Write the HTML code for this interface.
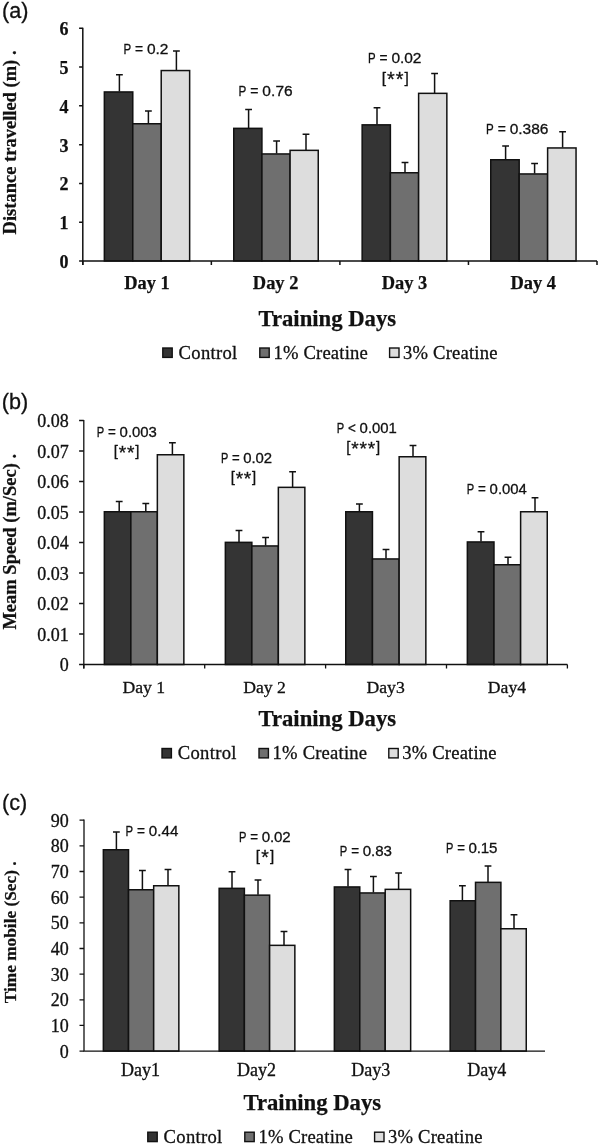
<!DOCTYPE html>
<html lang="en"><head><meta charset="utf-8"><title>Figure: creatine and training days</title>
<style>
html,body{margin:0;padding:0;background:#fff}
svg{display:block}
text{fill:#111}
</style></head>
<body>
<svg width="600" height="1146" viewBox="0 0 600 1146" shape-rendering="geometricPrecision">
<rect width="600" height="1146" fill="#fff"/>
<rect x="104.35" y="91.95" width="28.43" height="169.05" fill="#343434" stroke="#111" stroke-width="1.5"/>
<rect x="132.78" y="123.75" width="28.43" height="137.25" fill="#6f6f6f" stroke="#111" stroke-width="1.5"/>
<rect x="161.22" y="70.55" width="28.43" height="190.45" fill="#dddddd" stroke="#111" stroke-width="1.5"/>
<path d="M119.40 91.60V74.80M116.00 74.80H122.80" stroke="#111" stroke-width="1.5" fill="none"/>
<path d="M148.40 123.40V111.00M145.00 111.00H151.80" stroke="#111" stroke-width="1.5" fill="none"/>
<path d="M176.40 70.20V51.00M173.00 51.00H179.80" stroke="#111" stroke-width="1.5" fill="none"/>
<rect x="233.75" y="128.35" width="28.17" height="132.65" fill="#343434" stroke="#111" stroke-width="1.5"/>
<rect x="261.92" y="153.95" width="28.17" height="107.05" fill="#6f6f6f" stroke="#111" stroke-width="1.5"/>
<rect x="290.08" y="150.35" width="28.17" height="110.65" fill="#dddddd" stroke="#111" stroke-width="1.5"/>
<path d="M248.60 128.00V109.40M245.20 109.40H252.00" stroke="#111" stroke-width="1.5" fill="none"/>
<path d="M276.60 153.60V141.00M273.20 141.00H280.00" stroke="#111" stroke-width="1.5" fill="none"/>
<path d="M306.00 150.00V134.20M302.60 134.20H309.40" stroke="#111" stroke-width="1.5" fill="none"/>
<rect x="362.15" y="124.85" width="28.23" height="136.15" fill="#343434" stroke="#111" stroke-width="1.5"/>
<rect x="390.38" y="172.75" width="28.23" height="88.25" fill="#6f6f6f" stroke="#111" stroke-width="1.5"/>
<rect x="418.62" y="93.35" width="28.23" height="167.65" fill="#dddddd" stroke="#111" stroke-width="1.5"/>
<path d="M377.00 124.50V107.80M373.60 107.80H380.40" stroke="#111" stroke-width="1.5" fill="none"/>
<path d="M405.00 172.40V162.40M401.60 162.40H408.40" stroke="#111" stroke-width="1.5" fill="none"/>
<path d="M434.60 93.00V73.40M431.20 73.40H438.00" stroke="#111" stroke-width="1.5" fill="none"/>
<rect x="490.75" y="159.75" width="28.43" height="101.25" fill="#343434" stroke="#111" stroke-width="1.5"/>
<rect x="519.18" y="173.95" width="28.43" height="87.05" fill="#6f6f6f" stroke="#111" stroke-width="1.5"/>
<rect x="547.62" y="147.95" width="28.43" height="113.05" fill="#dddddd" stroke="#111" stroke-width="1.5"/>
<path d="M505.60 159.40V146.00M502.20 146.00H509.00" stroke="#111" stroke-width="1.5" fill="none"/>
<path d="M534.60 173.60V163.40M531.20 163.40H538.00" stroke="#111" stroke-width="1.5" fill="none"/>
<path d="M562.60 147.60V131.80M559.20 131.80H566.00" stroke="#111" stroke-width="1.5" fill="none"/>
<path d="M82.80 27.70V265.00M82.20 261.00H597.00" stroke="#111" stroke-width="1.5" fill="none"/>
<path d="M79.10 261.00H82.80M79.10 222.22H82.80M79.10 183.43H82.80M79.10 144.65H82.80M79.10 105.87H82.80M79.10 67.08H82.80M79.10 28.30H82.80M82.80 261.00V265.00M211.35 261.00V265.00M339.90 261.00V265.00M468.45 261.00V265.00M597.00 261.00V265.00" stroke="#111" stroke-width="1.5" fill="none"/>
<text x="68.60" y="267.90" font-family='"Liberation Serif", serif' font-size="18" font-weight="bold" text-anchor="end" stroke="#111" stroke-width="0.25">0</text>
<text x="68.60" y="229.12" font-family='"Liberation Serif", serif' font-size="18" font-weight="bold" text-anchor="end" stroke="#111" stroke-width="0.25">1</text>
<text x="68.60" y="190.33" font-family='"Liberation Serif", serif' font-size="18" font-weight="bold" text-anchor="end" stroke="#111" stroke-width="0.25">2</text>
<text x="68.60" y="151.55" font-family='"Liberation Serif", serif' font-size="18" font-weight="bold" text-anchor="end" stroke="#111" stroke-width="0.25">3</text>
<text x="68.60" y="112.77" font-family='"Liberation Serif", serif' font-size="18" font-weight="bold" text-anchor="end" stroke="#111" stroke-width="0.25">4</text>
<text x="68.60" y="73.98" font-family='"Liberation Serif", serif' font-size="18" font-weight="bold" text-anchor="end" stroke="#111" stroke-width="0.25">5</text>
<text x="68.60" y="35.20" font-family='"Liberation Serif", serif' font-size="18" font-weight="bold" text-anchor="end" stroke="#111" stroke-width="0.25">6</text>
<text transform="translate(15.80 234.40) rotate(-90)" font-family='"Liberation Serif", serif' font-size="18.5" font-weight="bold" stroke="#111" stroke-width="0.25">Distance travelled (m) .</text>
<text x="147.00" y="289.00" font-family='"Liberation Serif", serif' font-size="18.4" font-weight="bold" text-anchor="middle" stroke="#111" stroke-width="0.25">Day 1</text>
<text x="275.60" y="289.00" font-family='"Liberation Serif", serif' font-size="18.4" font-weight="bold" text-anchor="middle" stroke="#111" stroke-width="0.25">Day 2</text>
<text x="404.40" y="289.00" font-family='"Liberation Serif", serif' font-size="18.4" font-weight="bold" text-anchor="middle" stroke="#111" stroke-width="0.25">Day 3</text>
<text x="533.20" y="289.00" font-family='"Liberation Serif", serif' font-size="18.4" font-weight="bold" text-anchor="middle" stroke="#111" stroke-width="0.25">Day 4</text>
<text x="258.50" y="326.10" font-family='"Liberation Serif", serif' font-size="22.7" font-weight="bold" text-anchor="start" stroke="#111" stroke-width="0.25">Training Days</text>
<rect x="162.80" y="348.00" width="9.4" height="9.4" fill="#343434" stroke="#111" stroke-width="1.4"/>
<text x="178.60" y="358.70" font-family='"Liberation Serif", serif' font-size="18.6" font-weight="normal" text-anchor="start" letter-spacing="0.3" stroke="#111" stroke-width="0.3">Control</text>
<rect x="259.80" y="348.00" width="9.4" height="9.4" fill="#6f6f6f" stroke="#111" stroke-width="1.4"/>
<text x="273.40" y="358.70" font-family='"Liberation Serif", serif' font-size="18.6" font-weight="normal" text-anchor="start" letter-spacing="0.2" stroke="#111" stroke-width="0.3">1% Creatine</text>
<rect x="389.60" y="348.00" width="9.4" height="9.4" fill="#dddddd" stroke="#111" stroke-width="1.4"/>
<text x="403.00" y="358.70" font-family='"Liberation Serif", serif' font-size="18.6" font-weight="normal" text-anchor="start" letter-spacing="0.2" stroke="#111" stroke-width="0.3">3% Creatine</text>
<text x="2.00" y="17.90" font-family='"Liberation Sans", sans-serif' font-size="21.6" font-weight="normal" text-anchor="start" stroke="#111" stroke-width="0.3">(a)</text>
<text y="54.40" font-family='"Liberation Sans", sans-serif' font-size="15.5" stroke="#111" stroke-width="0.3" xml:space="preserve"><tspan x="123.42" textLength="7.69" lengthAdjust="spacingAndGlyphs">P</tspan><tspan x="130.89"> </tspan><tspan x="135.05" textLength="8.08" lengthAdjust="spacingAndGlyphs">=</tspan><tspan x="143.13"> </tspan><tspan x="146.92" y="54.40">0</tspan><tspan x="155.50" y="54.40">.</tspan><tspan x="159.76" y="54.40">2</tspan></text>
<text y="96.00" font-family='"Liberation Sans", sans-serif' font-size="15.5" stroke="#111" stroke-width="0.3" xml:space="preserve"><tspan x="238.43" textLength="7.81" lengthAdjust="spacingAndGlyphs">P</tspan><tspan x="246.01"> </tspan><tspan x="250.24" textLength="8.21" lengthAdjust="spacingAndGlyphs">=</tspan><tspan x="258.45"> </tspan><tspan x="262.37" y="96.00">0</tspan><tspan x="271.04" y="96.00">.</tspan><tspan x="275.41" y="96.00">7</tspan><tspan x="284.11" y="96.00">6</tspan></text>
<text y="62.60" font-family='"Liberation Sans", sans-serif' font-size="15.5" stroke="#111" stroke-width="0.3" xml:space="preserve"><tspan x="368.02" textLength="7.66" lengthAdjust="spacingAndGlyphs">P</tspan><tspan x="375.46"> </tspan><tspan x="379.61" textLength="8.06" lengthAdjust="spacingAndGlyphs">=</tspan><tspan x="387.66"> </tspan><tspan x="391.43" y="62.60">0</tspan><tspan x="399.99" y="62.60">.</tspan><tspan x="404.23" y="62.60">0</tspan><tspan x="412.77" y="62.60">2</tspan></text>
<text y="83.40" font-family='"Liberation Sans", sans-serif' font-size="15.5" stroke="#111" stroke-width="0.3" xml:space="preserve"><tspan x="381.66" y="83.40">[</tspan><tspan x="387.03" y="86.04" font-size="19.84">*</tspan><tspan x="395.78" y="86.04" font-size="19.84">*</tspan><tspan x="404.56" y="83.40">]</tspan></text>
<text y="133.60" font-family='"Liberation Sans", sans-serif' font-size="15.5" stroke="#111" stroke-width="0.3" xml:space="preserve"><tspan x="486.02" textLength="7.72" lengthAdjust="spacingAndGlyphs">P</tspan><tspan x="493.52"> </tspan><tspan x="497.70" textLength="8.12" lengthAdjust="spacingAndGlyphs">=</tspan><tspan x="505.82"> </tspan><tspan x="509.65" y="133.60">0</tspan><tspan x="518.25" y="133.60">.</tspan><tspan x="522.54" y="133.60">3</tspan><tspan x="531.14" y="133.60">8</tspan><tspan x="539.75" y="133.60">6</tspan></text>
<rect x="104.35" y="511.75" width="26.50" height="152.75" fill="#343434" stroke="#111" stroke-width="1.5"/>
<rect x="130.85" y="511.75" width="26.50" height="152.75" fill="#6f6f6f" stroke="#111" stroke-width="1.5"/>
<rect x="157.35" y="454.75" width="26.50" height="209.75" fill="#dddddd" stroke="#111" stroke-width="1.5"/>
<path d="M119.20 511.40V501.60M115.80 501.60H122.60" stroke="#111" stroke-width="1.5" fill="none"/>
<path d="M145.80 511.40V503.60M142.40 503.60H149.20" stroke="#111" stroke-width="1.5" fill="none"/>
<path d="M172.40 454.40V442.80M169.00 442.80H175.80" stroke="#111" stroke-width="1.5" fill="none"/>
<rect x="225.35" y="542.35" width="26.50" height="122.15" fill="#343434" stroke="#111" stroke-width="1.5"/>
<rect x="251.85" y="545.95" width="26.50" height="118.55" fill="#6f6f6f" stroke="#111" stroke-width="1.5"/>
<rect x="278.35" y="487.35" width="26.50" height="177.15" fill="#dddddd" stroke="#111" stroke-width="1.5"/>
<path d="M239.00 542.00V530.40M235.60 530.40H242.40" stroke="#111" stroke-width="1.5" fill="none"/>
<path d="M265.60 545.60V537.40M262.20 537.40H269.00" stroke="#111" stroke-width="1.5" fill="none"/>
<path d="M292.60 487.00V471.80M289.20 471.80H296.00" stroke="#111" stroke-width="1.5" fill="none"/>
<rect x="345.75" y="511.75" width="26.70" height="152.75" fill="#343434" stroke="#111" stroke-width="1.5"/>
<rect x="372.45" y="558.95" width="26.70" height="105.55" fill="#6f6f6f" stroke="#111" stroke-width="1.5"/>
<rect x="399.15" y="456.75" width="26.70" height="207.75" fill="#dddddd" stroke="#111" stroke-width="1.5"/>
<path d="M359.40 511.40V504.00M356.00 504.00H362.80" stroke="#111" stroke-width="1.5" fill="none"/>
<path d="M386.00 558.60V549.40M382.60 549.40H389.40" stroke="#111" stroke-width="1.5" fill="none"/>
<path d="M413.00 456.40V445.40M409.60 445.40H416.40" stroke="#111" stroke-width="1.5" fill="none"/>
<rect x="467.35" y="541.95" width="26.63" height="122.55" fill="#343434" stroke="#111" stroke-width="1.5"/>
<rect x="493.98" y="564.75" width="26.63" height="99.75" fill="#6f6f6f" stroke="#111" stroke-width="1.5"/>
<rect x="520.62" y="511.75" width="26.63" height="152.75" fill="#dddddd" stroke="#111" stroke-width="1.5"/>
<path d="M481.00 541.60V531.80M477.60 531.80H484.40" stroke="#111" stroke-width="1.5" fill="none"/>
<path d="M508.00 564.40V557.20M504.60 557.20H511.40" stroke="#111" stroke-width="1.5" fill="none"/>
<path d="M535.00 511.40V497.80M531.60 497.80H538.40" stroke="#111" stroke-width="1.5" fill="none"/>
<path d="M83.80 419.90V668.50M83.20 664.50H567.40" stroke="#111" stroke-width="1.3" fill="none"/>
<path d="M79.10 664.50H83.80M79.10 634.00H83.80M79.10 603.50H83.80M79.10 573.00H83.80M79.10 542.50H83.80M79.10 512.00H83.80M79.10 481.50H83.80M79.10 451.00H83.80M79.10 420.50H83.80M83.80 664.50V668.50M204.70 664.50V668.50M325.60 664.50V668.50M446.50 664.50V668.50M567.40 664.50V668.50" stroke="#111" stroke-width="1.3" fill="none"/>
<text x="68.80" y="671.10" font-family='"Liberation Serif", serif' font-size="18" font-weight="normal" text-anchor="end" stroke="#111" stroke-width="0.3">0</text>
<text x="68.80" y="640.60" font-family='"Liberation Serif", serif' font-size="18" font-weight="normal" text-anchor="end" stroke="#111" stroke-width="0.3">0.01</text>
<text x="68.80" y="610.10" font-family='"Liberation Serif", serif' font-size="18" font-weight="normal" text-anchor="end" stroke="#111" stroke-width="0.3">0.02</text>
<text x="68.80" y="579.60" font-family='"Liberation Serif", serif' font-size="18" font-weight="normal" text-anchor="end" stroke="#111" stroke-width="0.3">0.03</text>
<text x="68.80" y="549.10" font-family='"Liberation Serif", serif' font-size="18" font-weight="normal" text-anchor="end" stroke="#111" stroke-width="0.3">0.04</text>
<text x="68.80" y="518.60" font-family='"Liberation Serif", serif' font-size="18" font-weight="normal" text-anchor="end" stroke="#111" stroke-width="0.3">0.05</text>
<text x="68.80" y="488.10" font-family='"Liberation Serif", serif' font-size="18" font-weight="normal" text-anchor="end" stroke="#111" stroke-width="0.3">0.06</text>
<text x="68.80" y="457.60" font-family='"Liberation Serif", serif' font-size="18" font-weight="normal" text-anchor="end" stroke="#111" stroke-width="0.3">0.07</text>
<text x="68.80" y="427.10" font-family='"Liberation Serif", serif' font-size="18" font-weight="normal" text-anchor="end" stroke="#111" stroke-width="0.3">0.08</text>
<text transform="translate(15.70 629.60) rotate(-90)" font-family='"Liberation Serif", serif' font-size="18.5" font-weight="bold" stroke="#111" stroke-width="0.25">Meam Speed (m/Sec) .</text>
<text x="143.80" y="692.70" font-family='"Liberation Serif", serif' font-size="17.7" font-weight="normal" text-anchor="middle" stroke="#111" stroke-width="0.3">Day 1</text>
<text x="264.60" y="692.70" font-family='"Liberation Serif", serif' font-size="17.7" font-weight="normal" text-anchor="middle" stroke="#111" stroke-width="0.3">Day 2</text>
<text x="385.60" y="692.70" font-family='"Liberation Serif", serif' font-size="17.7" font-weight="normal" text-anchor="middle" stroke="#111" stroke-width="0.3">Day3</text>
<text x="507.00" y="692.70" font-family='"Liberation Serif", serif' font-size="17.7" font-weight="normal" text-anchor="middle" stroke="#111" stroke-width="0.3">Day4</text>
<text x="258.50" y="725.70" font-family='"Liberation Serif", serif' font-size="22.7" font-weight="bold" text-anchor="start" stroke="#111" stroke-width="0.25">Training Days</text>
<rect x="162.00" y="748.50" width="9.4" height="9.4" fill="#343434" stroke="#111" stroke-width="1.4"/>
<text x="177.80" y="759.20" font-family='"Liberation Serif", serif' font-size="18.6" font-weight="normal" text-anchor="start" letter-spacing="0.3" stroke="#111" stroke-width="0.3">Control</text>
<rect x="259.00" y="748.50" width="9.4" height="9.4" fill="#6f6f6f" stroke="#111" stroke-width="1.4"/>
<text x="272.60" y="759.20" font-family='"Liberation Serif", serif' font-size="18.6" font-weight="normal" text-anchor="start" letter-spacing="0.2" stroke="#111" stroke-width="0.3">1% Creatine</text>
<rect x="388.80" y="748.50" width="9.4" height="9.4" fill="#dddddd" stroke="#111" stroke-width="1.4"/>
<text x="402.20" y="759.20" font-family='"Liberation Serif", serif' font-size="18.6" font-weight="normal" text-anchor="start" letter-spacing="0.2" stroke="#111" stroke-width="0.3">3% Creatine</text>
<text x="1.80" y="408.80" font-family='"Liberation Sans", sans-serif' font-size="21.6" font-weight="normal" text-anchor="start" stroke="#111" stroke-width="0.3">(b)</text>
<text y="437.00" font-family='"Liberation Sans", sans-serif' font-size="14.9" stroke="#111" stroke-width="0.3" xml:space="preserve"><tspan x="96.81" textLength="7.44" lengthAdjust="spacingAndGlyphs">P</tspan><tspan x="104.04"> </tspan><tspan x="108.07" textLength="7.83" lengthAdjust="spacingAndGlyphs">=</tspan><tspan x="115.89"> </tspan><tspan x="119.60" y="437.00">0</tspan><tspan x="127.88" y="437.00">.</tspan><tspan x="132.03" y="437.00">0</tspan><tspan x="140.32" y="437.00">0</tspan><tspan x="148.62" y="437.00">3</tspan></text>
<text y="456.00" font-family='"Liberation Sans", sans-serif' font-size="14.9" stroke="#111" stroke-width="0.3" xml:space="preserve"><tspan x="113.65" y="456.00">[</tspan><tspan x="118.70" y="458.53" font-size="19.07">*</tspan><tspan x="126.98" y="458.53" font-size="19.07">*</tspan><tspan x="135.31" y="456.00">]</tspan></text>
<text y="462.60" font-family='"Liberation Sans", sans-serif' font-size="14.9" stroke="#111" stroke-width="0.3" xml:space="preserve"><tspan x="221.00" textLength="7.31" lengthAdjust="spacingAndGlyphs">P</tspan><tspan x="228.10"> </tspan><tspan x="232.06" textLength="7.69" lengthAdjust="spacingAndGlyphs">=</tspan><tspan x="239.75"> </tspan><tspan x="243.31" y="462.60">0</tspan><tspan x="251.49" y="462.60">.</tspan><tspan x="255.52" y="462.60">0</tspan><tspan x="263.67" y="462.60">2</tspan></text>
<text y="482.00" font-family='"Liberation Sans", sans-serif' font-size="14.9" stroke="#111" stroke-width="0.3" xml:space="preserve"><tspan x="230.63" y="482.00">[</tspan><tspan x="235.63" y="484.53" font-size="19.07">*</tspan><tspan x="243.85" y="484.53" font-size="19.07">*</tspan><tspan x="252.12" y="482.00">]</tspan></text>
<text y="432.60" font-family='"Liberation Sans", sans-serif' font-size="14.9" stroke="#111" stroke-width="0.3" xml:space="preserve"><tspan x="336.81" textLength="7.44" lengthAdjust="spacingAndGlyphs">P</tspan><tspan x="344.04"> </tspan><tspan x="348.07" textLength="7.83" lengthAdjust="spacingAndGlyphs">&lt;</tspan><tspan x="355.89"> </tspan><tspan x="359.60" y="432.60">0</tspan><tspan x="367.88" y="432.60">.</tspan><tspan x="372.03" y="432.60">0</tspan><tspan x="380.32" y="432.60">0</tspan><tspan x="388.62" y="432.60">1</tspan></text>
<text y="452.00" font-family='"Liberation Sans", sans-serif' font-size="14.9" stroke="#111" stroke-width="0.3" xml:space="preserve"><tspan x="346.24" y="452.00">[</tspan><tspan x="351.28" y="454.53" font-size="19.07">*</tspan><tspan x="359.54" y="454.53" font-size="19.07">*</tspan><tspan x="367.80" y="454.53" font-size="19.07">*</tspan><tspan x="376.11" y="452.00">]</tspan></text>
<text y="493.60" font-family='"Liberation Sans", sans-serif' font-size="14.9" stroke="#111" stroke-width="0.3" xml:space="preserve"><tspan x="466.81" textLength="7.44" lengthAdjust="spacingAndGlyphs">P</tspan><tspan x="474.04"> </tspan><tspan x="478.07" textLength="7.83" lengthAdjust="spacingAndGlyphs">=</tspan><tspan x="485.89"> </tspan><tspan x="489.60" y="493.60">0</tspan><tspan x="497.88" y="493.60">.</tspan><tspan x="502.03" y="493.60">0</tspan><tspan x="510.32" y="493.60">0</tspan><tspan x="518.62" y="493.60">4</tspan></text>
<rect x="103.35" y="849.75" width="25.17" height="201.35" fill="#343434" stroke="#111" stroke-width="1.5"/>
<rect x="128.52" y="889.75" width="25.17" height="161.35" fill="#6f6f6f" stroke="#111" stroke-width="1.5"/>
<rect x="153.68" y="885.75" width="25.17" height="165.35" fill="#dddddd" stroke="#111" stroke-width="1.5"/>
<path d="M116.40 849.40V832.00M113.00 832.00H119.80" stroke="#111" stroke-width="1.5" fill="none"/>
<path d="M142.40 889.40V870.40M139.00 870.40H145.80" stroke="#111" stroke-width="1.5" fill="none"/>
<path d="M168.00 885.40V869.40M164.60 869.40H171.40" stroke="#111" stroke-width="1.5" fill="none"/>
<rect x="219.15" y="888.35" width="25.23" height="162.75" fill="#343434" stroke="#111" stroke-width="1.5"/>
<rect x="244.38" y="895.15" width="25.23" height="155.95" fill="#6f6f6f" stroke="#111" stroke-width="1.5"/>
<rect x="269.62" y="945.35" width="25.23" height="105.75" fill="#dddddd" stroke="#111" stroke-width="1.5"/>
<path d="M232.00 888.00V871.80M228.60 871.80H235.40" stroke="#111" stroke-width="1.5" fill="none"/>
<path d="M258.00 894.80V880.00M254.60 880.00H261.40" stroke="#111" stroke-width="1.5" fill="none"/>
<path d="M284.00 945.00V931.40M280.60 931.40H287.40" stroke="#111" stroke-width="1.5" fill="none"/>
<rect x="334.35" y="886.95" width="25.43" height="164.15" fill="#343434" stroke="#111" stroke-width="1.5"/>
<rect x="359.78" y="892.95" width="25.43" height="158.15" fill="#6f6f6f" stroke="#111" stroke-width="1.5"/>
<rect x="385.22" y="889.35" width="25.43" height="161.75" fill="#dddddd" stroke="#111" stroke-width="1.5"/>
<path d="M348.00 886.60V869.40M344.60 869.40H351.40" stroke="#111" stroke-width="1.5" fill="none"/>
<path d="M373.40 892.60V876.40M370.00 876.40H376.80" stroke="#111" stroke-width="1.5" fill="none"/>
<path d="M398.60 889.00V873.00M395.20 873.00H402.00" stroke="#111" stroke-width="1.5" fill="none"/>
<rect x="450.15" y="900.75" width="25.37" height="150.35" fill="#343434" stroke="#111" stroke-width="1.5"/>
<rect x="475.52" y="882.35" width="25.37" height="168.75" fill="#6f6f6f" stroke="#111" stroke-width="1.5"/>
<rect x="500.88" y="928.75" width="25.37" height="122.35" fill="#dddddd" stroke="#111" stroke-width="1.5"/>
<path d="M462.40 900.40V885.80M459.00 885.80H465.80" stroke="#111" stroke-width="1.5" fill="none"/>
<path d="M488.00 882.00V866.00M484.60 866.00H491.40" stroke="#111" stroke-width="1.5" fill="none"/>
<path d="M514.00 928.40V914.80M510.60 914.80H517.40" stroke="#111" stroke-width="1.5" fill="none"/>
<path d="M84.00 819.60V1051.10M83.40 1051.10H545.00" stroke="#111" stroke-width="1.3" fill="none"/>
<path d="M79.50 1051.10H84.00M79.50 1025.44H84.00M79.50 999.79H84.00M79.50 974.13H84.00M79.50 948.48H84.00M79.50 922.82H84.00M79.50 897.17H84.00M79.50 871.51H84.00M79.50 845.86H84.00M79.50 820.20H84.00" stroke="#111" stroke-width="1.3" fill="none"/>
<text x="68.80" y="1057.70" font-family='"Liberation Serif", serif' font-size="18" font-weight="normal" text-anchor="end" stroke="#111" stroke-width="0.3">0</text>
<text x="68.80" y="1032.04" font-family='"Liberation Serif", serif' font-size="18" font-weight="normal" text-anchor="end" stroke="#111" stroke-width="0.3">10</text>
<text x="68.80" y="1006.39" font-family='"Liberation Serif", serif' font-size="18" font-weight="normal" text-anchor="end" stroke="#111" stroke-width="0.3">20</text>
<text x="68.80" y="980.73" font-family='"Liberation Serif", serif' font-size="18" font-weight="normal" text-anchor="end" stroke="#111" stroke-width="0.3">30</text>
<text x="68.80" y="955.08" font-family='"Liberation Serif", serif' font-size="18" font-weight="normal" text-anchor="end" stroke="#111" stroke-width="0.3">40</text>
<text x="68.80" y="929.42" font-family='"Liberation Serif", serif' font-size="18" font-weight="normal" text-anchor="end" stroke="#111" stroke-width="0.3">50</text>
<text x="68.80" y="903.77" font-family='"Liberation Serif", serif' font-size="18" font-weight="normal" text-anchor="end" stroke="#111" stroke-width="0.3">60</text>
<text x="68.80" y="878.11" font-family='"Liberation Serif", serif' font-size="18" font-weight="normal" text-anchor="end" stroke="#111" stroke-width="0.3">70</text>
<text x="68.80" y="852.46" font-family='"Liberation Serif", serif' font-size="18" font-weight="normal" text-anchor="end" stroke="#111" stroke-width="0.3">80</text>
<text x="68.80" y="826.80" font-family='"Liberation Serif", serif' font-size="18" font-weight="normal" text-anchor="end" stroke="#111" stroke-width="0.3">90</text>
<text transform="translate(15.70 1003.20) rotate(-90)" font-family='"Liberation Serif", serif' font-size="17.3" font-weight="bold" stroke="#111" stroke-width="0.25">Time mobile (Sec) .</text>
<text x="140.50" y="1076.00" font-family='"Liberation Serif", serif' font-size="18" font-weight="normal" text-anchor="middle" stroke="#111" stroke-width="0.3">Day1</text>
<text x="256.40" y="1076.00" font-family='"Liberation Serif", serif' font-size="18" font-weight="normal" text-anchor="middle" stroke="#111" stroke-width="0.3">Day2</text>
<text x="370.80" y="1076.00" font-family='"Liberation Serif", serif' font-size="18" font-weight="normal" text-anchor="middle" stroke="#111" stroke-width="0.3">Day3</text>
<text x="486.80" y="1076.00" font-family='"Liberation Serif", serif' font-size="18" font-weight="normal" text-anchor="middle" stroke="#111" stroke-width="0.3">Day4</text>
<text x="243.50" y="1110.00" font-family='"Liberation Serif", serif' font-size="22.7" font-weight="bold" text-anchor="start" stroke="#111" stroke-width="0.25">Training Days</text>
<rect x="147.80" y="1132.20" width="9.4" height="9.4" fill="#343434" stroke="#111" stroke-width="1.4"/>
<text x="163.60" y="1142.90" font-family='"Liberation Serif", serif' font-size="18.6" font-weight="normal" text-anchor="start" letter-spacing="0.3" stroke="#111" stroke-width="0.3">Control</text>
<rect x="244.80" y="1132.20" width="9.4" height="9.4" fill="#6f6f6f" stroke="#111" stroke-width="1.4"/>
<text x="258.40" y="1142.90" font-family='"Liberation Serif", serif' font-size="18.6" font-weight="normal" text-anchor="start" letter-spacing="0.2" stroke="#111" stroke-width="0.3">1% Creatine</text>
<rect x="374.60" y="1132.20" width="9.4" height="9.4" fill="#dddddd" stroke="#111" stroke-width="1.4"/>
<text x="388.00" y="1142.90" font-family='"Liberation Serif", serif' font-size="18.6" font-weight="normal" text-anchor="start" letter-spacing="0.2" stroke="#111" stroke-width="0.3">3% Creatine</text>
<text x="2.00" y="810.00" font-family='"Liberation Sans", sans-serif' font-size="21.6" font-weight="normal" text-anchor="start" stroke="#111" stroke-width="0.3">(c)</text>
<text y="836.00" font-family='"Liberation Sans", sans-serif' font-size="15.1" stroke="#111" stroke-width="0.3" xml:space="preserve"><tspan x="125.42" textLength="7.60" lengthAdjust="spacingAndGlyphs">P</tspan><tspan x="132.80"> </tspan><tspan x="136.92" textLength="8.00" lengthAdjust="spacingAndGlyphs">=</tspan><tspan x="144.91"> </tspan><tspan x="148.73" y="836.00">0</tspan><tspan x="157.18" y="836.00">.</tspan><tspan x="161.43" y="836.00">4</tspan><tspan x="169.90" y="836.00">4</tspan></text>
<text y="842.00" font-family='"Liberation Sans", sans-serif' font-size="15.1" stroke="#111" stroke-width="0.3" xml:space="preserve"><tspan x="239.01" textLength="7.43" lengthAdjust="spacingAndGlyphs">P</tspan><tspan x="246.22"> </tspan><tspan x="250.24" textLength="7.81" lengthAdjust="spacingAndGlyphs">=</tspan><tspan x="258.05"> </tspan><tspan x="261.69" y="842.00">0</tspan><tspan x="269.99" y="842.00">.</tspan><tspan x="274.09" y="842.00">0</tspan><tspan x="282.37" y="842.00">2</tspan></text>
<text y="861.00" font-family='"Liberation Sans", sans-serif' font-size="15.1" stroke="#111" stroke-width="0.3" xml:space="preserve"><tspan x="255.73" y="861.00">[</tspan><tspan x="261.21" y="863.57" font-size="19.33">*</tspan><tspan x="270.00" y="861.00">]</tspan></text>
<text y="856.00" font-family='"Liberation Sans", sans-serif' font-size="15.1" stroke="#111" stroke-width="0.3" xml:space="preserve"><tspan x="339.81" textLength="7.49" lengthAdjust="spacingAndGlyphs">P</tspan><tspan x="347.08"> </tspan><tspan x="351.13" textLength="7.87" lengthAdjust="spacingAndGlyphs">=</tspan><tspan x="359.00"> </tspan><tspan x="362.70" y="856.00">0</tspan><tspan x="371.05" y="856.00">.</tspan><tspan x="375.20" y="856.00">8</tspan><tspan x="383.55" y="856.00">3</tspan></text>
<text y="853.00" font-family='"Liberation Sans", sans-serif' font-size="15.1" stroke="#111" stroke-width="0.3" xml:space="preserve"><tspan x="446.01" textLength="7.37" lengthAdjust="spacingAndGlyphs">P</tspan><tspan x="453.16"> </tspan><tspan x="457.15" textLength="7.75" lengthAdjust="spacingAndGlyphs">=</tspan><tspan x="464.90"> </tspan><tspan x="468.47" y="853.00">0</tspan><tspan x="476.72" y="853.00">.</tspan><tspan x="480.78" y="853.00">1</tspan><tspan x="488.99" y="853.00">5</tspan></text>
</svg>
</body></html>
